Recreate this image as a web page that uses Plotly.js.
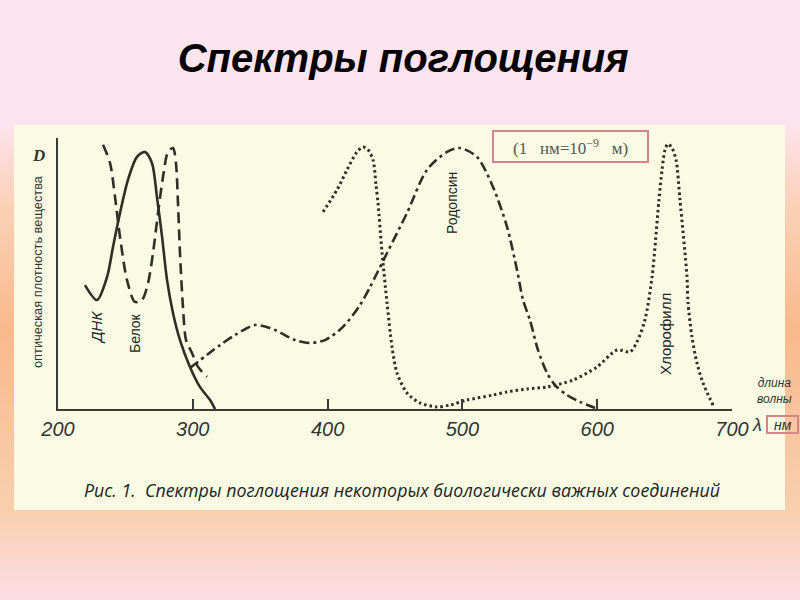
<!DOCTYPE html>
<html>
<head>
<meta charset="utf-8">
<script src="https://cdn.plot.ly/plotly-3.0.1.min.js"></script>
<style>
html,body{margin:0;padding:0;width:800px;height:600px;overflow:hidden;}
body{background:linear-gradient(to bottom,#fde4ef 0%,#fde4ef 20%,#fbd0b4 35%,#f8b98c 55%,#f9cfae 85%,#fbdde6 100%);}
#chart{width:800px;height:600px;}
</style>
</head>
<body>
<div id="chart"></div>
<script>
// wavelength (nm) and optical density (relative)
const dnaX = [220.0,228.9,236.4,240.8,246.0,251.9,258.6,264.5,269.7,273.4,277.2,280.9,285.3,290.5,297.9,305.3,312.8,316.5];
const dnaY = [0.471,0.414,0.502,0.616,0.745,0.871,0.958,0.977,0.935,0.806,0.654,0.490,0.365,0.262,0.160,0.084,0.034,0.0];

const proteinX = [233.4,238.6,242.3,246.0,251.2,257.1,262.3,266.8,270.5,274.2,277.9,281.6,285.3,287.5,289.0,290.5,292.7,295.0,299.4,303.9,310.5];
const proteinY = [1.004,0.935,0.806,0.654,0.490,0.407,0.414,0.479,0.593,0.745,0.882,0.977,0.992,0.935,0.783,0.593,0.388,0.262,0.213,0.160,0.122];

const rhodX = [297.9,320.2,331.3,346.1,361.0,375.8,386.9,398.1,411.4,424.0,431.5,444.1,458.9,473.7,488.6,498.2,510.8,522.7,533.1,540.5,545.0,550.1,556.1,562.8,568.7,577.6,587.2,598.4];
const rhodY = [0.156,0.243,0.281,0.319,0.300,0.262,0.251,0.262,0.312,0.395,0.464,0.593,0.745,0.909,0.977,0.992,0.958,0.844,0.692,0.529,0.414,0.338,0.224,0.137,0.091,0.053,0.027,0.004];

const chlX = [396.6,407.0,414.4,421.8,426.3,430.0,433.7,435.9,437.4,440.4,444.1,447.8,451.5,458.9,468.5,481.2,490.8,503.4,522.7,533.1,547.9,562.8,582.0,599.9,614.7,624.3,629.5,635.4,640.7,645.8,648.1,650.3,652.5,655.5,658.5,661.4,666.6,667.4,670.3,674.0,678.5,685.9];
const chlY = [0.749,0.833,0.909,0.977,0.996,0.985,0.947,0.852,0.783,0.593,0.403,0.236,0.137,0.061,0.023,0.008,0.015,0.034,0.053,0.065,0.076,0.084,0.110,0.160,0.224,0.217,0.255,0.338,0.502,0.795,0.909,0.985,1.008,0.992,0.947,0.795,0.502,0.403,0.274,0.175,0.099,0.015];

const tickVals = [200,300,400,500,600,700];
const tickText = ['200','300','400','500','600','700'];

const ink = '#2e2e2a';

// plot area in pixels: x 58..732, y 138..409
const L = 58, R = 732, T = 138, B = 409;
const px = x => (x - L) / (R - L);
const py = y => (B - y) / (B - T);

const traces = [
  {x: dnaX, y: dnaY, mode: 'lines', name: 'ДНК', line: {color: ink, width: 2.6, shape: 'spline', smoothing: 0.8}},
  {x: proteinX, y: proteinY, mode: 'lines', name: 'Белок', line: {color: ink, width: 2.6, dash: '11px,6px', shape: 'spline', smoothing: 0.8}},
  {x: rhodX, y: rhodY, mode: 'lines', name: 'Родопсин', line: {color: ink, width: 2.6, dash: '10px,4px,3px,4px', shape: 'spline', smoothing: 0.8}},
  {x: chlX, y: chlY, mode: 'lines', name: 'Хлорофилл', line: {color: ink, width: 3, dash: '2.5px,3px', shape: 'spline', smoothing: 0.8}}
];

const it = (t, x, y, o) => Object.assign({text: t, x: px(x), y: py(y), xref: 'paper', yref: 'paper', showarrow: false,
  xanchor: 'center', yanchor: 'middle', font: {family: 'Liberation Sans, Arial, sans-serif', size: 14, color: '#222'}}, o || {});

const layout = {
  width: 800, height: 600,
  margin: {l: L, r: 800 - R, t: T, b: 600 - B, pad: 0},
  paper_bgcolor: 'rgba(0,0,0,0)',
  plot_bgcolor: 'rgba(0,0,0,0)',
  showlegend: false,
  title: {text: 'Спектры поглощения', x: 0.504, xref: 'container', y: 1 - 58/600, yref: 'container', yanchor: 'middle', xanchor: 'center',
    font: {family: 'Liberation Sans, Arial, sans-serif', size: 40, weight: 'bold', style: 'italic', color: '#000'}},
  xaxis: {range: [200, 700], tickvals: tickVals, ticktext: tickText, ticks: 'inside', ticklen: 10, tickwidth: 2, tickcolor: '#3a3a36',
    showline: true, linecolor: '#3a3a36', linewidth: 2, showgrid: false, zeroline: false, ticklabelstandoff: 1,
    tickfont: {family: 'Liberation Sans, Arial, sans-serif', size: 20, style: 'italic', color: '#333'}},
  yaxis: {range: [0, 1.03], showline: true, linecolor: '#3a3a36', linewidth: 2, showgrid: false, zeroline: false,
    ticks: '', showticklabels: false},
  shapes: [
    {type: 'rect', xref: 'paper', yref: 'paper', x0: px(14), x1: px(785), y0: py(510), y1: py(125), fillcolor: '#f9fce2', line: {width: 0}, layer: 'below'},
    {type: 'rect', xref: 'paper', yref: 'paper', x0: px(493), x1: px(648), y0: py(162), y1: py(131), line: {color: '#d48686', width: 2}},
    {type: 'rect', xref: 'paper', yref: 'paper', x0: px(767), x1: px(798), y0: py(433), y1: py(416), line: {color: '#d48686', width: 2}}
  ],
  annotations: [
    it('оптическая плотность вещества', 37, 272, {textangle: -90, font: {family: 'Liberation Sans, Arial, sans-serif', size: 12.8, color: '#333'}}),
    it('D', 38, 155, {font: {family: 'Liberation Serif, serif', size: 17, style: 'italic', weight: 'bold', color: '#333'}}),
    it('ДНК', 96, 328, {textangle: -90, font: {family: 'Liberation Sans, Arial, sans-serif', size: 15, style: 'italic', color: '#222'}}),
    it('Белок', 135, 333, {textangle: -90, font: {family: 'Liberation Sans, Arial, sans-serif', size: 14, color: '#222'}}),
    it('Родопсин', 452, 203, {textangle: -90, font: {family: 'Liberation Sans, Arial, sans-serif', size: 14, color: '#222'}}),
    it('Хлорофилл', 665, 334, {textangle: -90, font: {family: 'Liberation Sans, Arial, sans-serif', size: 15, color: '#222'}}),
    it('(1&nbsp;&nbsp;&nbsp;нм=10<sup>−9</sup>&nbsp;&nbsp;&nbsp;м)', 570, 147, {font: {family: 'Liberation Serif, serif', size: 17, color: '#555'}}),
    it('длина<br>волны', 774, 391, {font: {family: 'Liberation Sans, Arial, sans-serif', size: 12, style: 'italic', color: '#333'}}),
    it('λ', 757, 425, {font: {family: 'Liberation Sans, Arial, sans-serif', size: 18, style: 'italic', color: '#333'}}),
    it('нм', 783, 425, {font: {family: 'Liberation Sans, Arial, sans-serif', size: 14, style: 'italic', color: '#333'}}),
    it('Рис. 1.&nbsp;&nbsp;Спектры поглощения некоторых биологически важных соединений', 402, 490,
      {font: {family: 'Open Sans, Noto Sans, sans-serif', size: 17.8, style: 'italic', color: '#222'}})
  ]
};

Plotly.newPlot('chart', traces, layout, {displayModeBar: false, staticPlot: true});
</script>
</body>
</html>
